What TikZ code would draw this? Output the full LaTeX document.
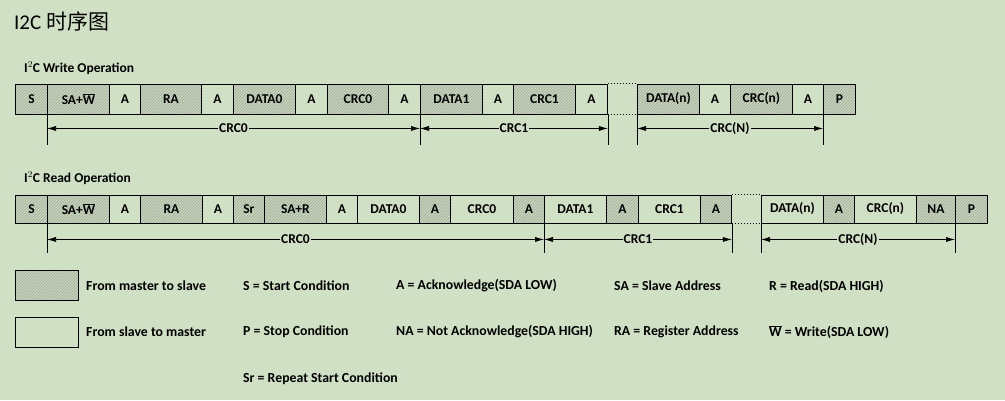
\documentclass[tikz,border=0pt]{standalone}
\usepackage{fontspec}
\setmainfont{Carlito}
\newfontfamily\cjk{Noto Sans CJK SC}
\usetikzlibrary{patterns,arrows.meta}
\definecolor{bg}{HTML}{D0E0C4}
\definecolor{hf}{HTML}{C4D8B6}
\newcommand{\ovW}{$\overline{\hbox{W}}$}
\tikzset{
  cell/.style={draw=black, line width=0.9pt, fill=bg, inner sep=0pt, font=\bfseries\fontsize{13.5}{14}\selectfont},
  hatch/.style={fill=hf, postaction={draw=none, pattern=north east lines, pattern color=black!35}, postaction={draw=black, line width=0.9pt}},
  dim/.style={{Latex[length=9pt,width=5pt]}-{Latex[length=9pt,width=5pt]}, line width=0.6pt},
  dlab/.style={fill=bg, inner sep=1pt, font=\bfseries\fontsize{13.5}{14}\selectfont},
  tick/.style={line width=0.6pt},
  leg/.style={anchor=west, font=\bfseries\fontsize{13.8}{14}\selectfont, inner sep=0pt},
  head/.style={anchor=west, font=\bfseries\fontsize{13.5}{14}\selectfont, inner sep=0pt},
  dots/.style={dash pattern=on 1.5pt off 1.5pt, line width=1.2pt},
}
\begin{document}
\begin{tikzpicture}[x=1pt,y=-1pt]
\fill[bg] (0,0) rectangle (1005,400);
\useasboundingbox (0,0) rectangle (1005,400);
\node[anchor=west, inner sep=0pt, font=\fontsize{21}{22}\selectfont] (title) at (14,21) {I2C {\cjk 时序图}};
\node[head] (wh) at (24,68) {I$^{2}$C Write Operation};
\node[head] (rh) at (24,178) {I$^{2}$C Read Operation};
% write row
\foreach \a/\b/\t/\h [count=\i] in {
 15/47/S/1, 47/109/SA+\ovW/1, 109/140/A/0, 140/201/RA/1, 201/233/A/0, 233/295/DATA0/1,
 295/327/A/0, 327/388/CRC0/1, 388/420/A/0, 420/482/DATA1/1, 482/513/A/0, 513/575/CRC1/1,
 575/607/A/0, 637/699/DATA(n)/1, 699/730/A/0, 730/792/CRC(n)/1, 792/823/A/0, 823/855/P/1}{
  \ifnum\h=1
   \node[cell,hatch,minimum width={\b-\a}, minimum height=30, anchor=west] (w\i) at (\a,99) {\t};
  \else
   \node[cell,minimum width={\b-\a}, minimum height=30, anchor=west] (w\i) at (\a,99) {\t};
  \fi
}
\draw[dots] (w13.north east) -- (w14.north west);
\draw[dots] (w13.south east) -- (w14.south west);
\foreach \n in {2,10,14,18} { \coordinate (wt\n) at ([yshift=-31]w\n.south west); \draw[tick] (w\n.south west) -- (wt\n); }
\coordinate (wt13) at ([yshift=-31]w13.south east); \draw[tick] (w13.south east) -- (wt13);
\draw[dim] ([yshift=-14]w2.south west) -- node[dlab]{CRC0} ([yshift=-14]w10.south west);
\draw[dim] ([yshift=-14]w10.south west) -- node[dlab]{CRC1} ([yshift=-14]w13.south east);
\draw[dim] ([yshift=-14]w14.south west) -- node[dlab]{CRC(N)} ([yshift=-14]w18.south west);
% read row
\foreach \a/\b/\t/\h [count=\i] in {
 15/47/S/1, 47/109/SA+\ovW/1, 109/140/A/0, 140/202/RA/1, 202/233/A/0, 233/264/Sr/1,
 264/326/SA+R/1, 326/357/A/0, 357/419/DATA0/0, 419/450/A/1, 450/513/CRC0/0, 513/544/A/1,
 544/606/DATA1/0, 606/638/A/1, 638/700/CRC1/0, 700/731/A/1,
 761/823/DATA(n)/0, 823/854/A/1, 854/916/CRC(n)/0, 916/955/NA/1, 955/987/P/1}{
  \ifnum\h=1
   \node[cell,hatch,minimum width={\b-\a}, minimum height=28, anchor=west] (r\i) at (\a,209) {\t};
  \else
   \node[cell,minimum width={\b-\a}, minimum height=28, anchor=west] (r\i) at (\a,209) {\t};
  \fi
}
\draw[dots] (r16.north east) -- (r17.north west);
\draw[dots] (r16.south east) -- (r17.south west);
\foreach \n in {2,13,17,21} { \coordinate (rt\n) at ([yshift=-30]r\n.south west); \draw[tick] (r\n.south west) -- (rt\n); }
\coordinate (rt16) at ([yshift=-30]r16.south east); \draw[tick] (r16.south east) -- (rt16);
\draw[dim] ([yshift=-16]r2.south west) -- node[dlab]{CRC0} ([yshift=-16]r13.south west);
\draw[dim] ([yshift=-16]r13.south west) -- node[dlab]{CRC1} ([yshift=-16]r16.south east);
\draw[dim] ([yshift=-16]r17.south west) -- node[dlab]{CRC(N)} ([yshift=-16]r21.south west);
% legend
\node[cell,hatch,minimum width=63,minimum height=30,anchor=west] (lh) at (15,285) {};
\node[cell,minimum width=63,minimum height=30,anchor=west] (lp) at (15,332) {};
\node[leg] (l1) at (86,286) {From master to slave};
\node[leg] (l2) at (86,332) {From slave to master};
\node[leg] (l3) at (243,286) {S = Start Condition};
\node[leg] (l4) at (243,332) {P = Stop Condition};
\node[leg] (l5) at (243,379) {Sr = Repeat Start Condition};
\node[leg] (l6) at (396,286) {A = Acknowledge(SDA LOW)};
\node[leg] (l7) at (396,332) {NA = Not Acknowledge(SDA HIGH)};
\node[leg] (l8) at (614,286) {SA = Slave Address};
\node[leg] (l9) at (614,332) {RA = Register Address};
\node[leg] (l10) at (769,286) {R = Read(SDA HIGH)};
\node[leg] (l11) at (769,332) {\ovW{} = Write(SDA LOW)};
\end{tikzpicture}
\end{document}
